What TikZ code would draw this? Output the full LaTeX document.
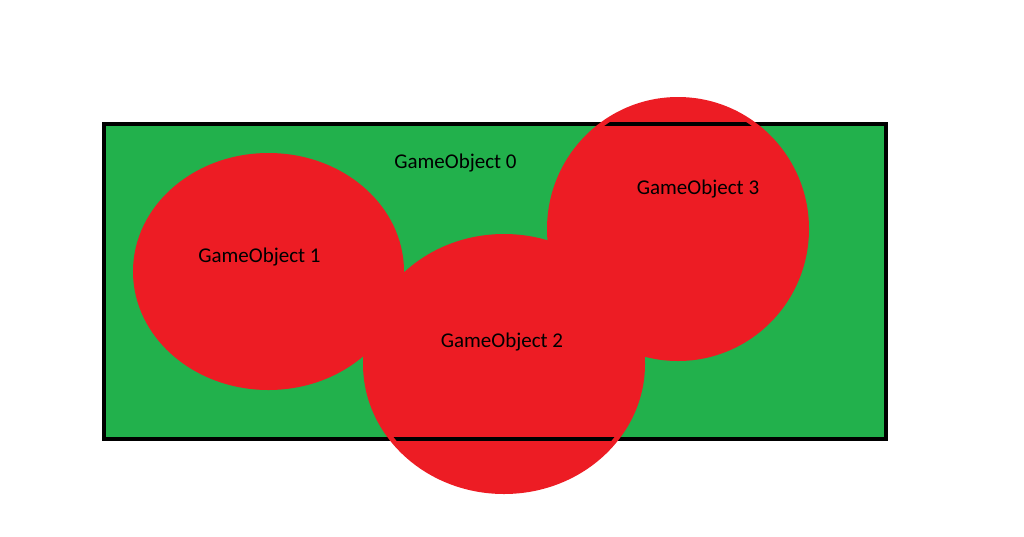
\documentclass[tikz,border=0pt]{standalone}
\usepackage{fontspec}
\setmainfont{Carlito}
\definecolor{paintgreen}{HTML}{22B14C}
\definecolor{paintred}{HTML}{ED1C24}
\begin{document}
\begin{tikzpicture}[x=1pt,y=-1pt,
  blob/.style={fill=paintred,draw=none},
  lbl/.style={font=\fontsize{21}{24}\selectfont,text=black,inner sep=0pt},
  frame/.style={draw=black,line width=4pt}]
\useasboundingbox (0,0) rectangle (1024,536);
\fill[paintgreen] (104,124) rectangle (886,439);
\draw[frame] (104,124) rectangle (886,439);
\fill[blob] (268.5,271.5) ellipse [x radius=135.5, y radius=118.5];
\fill[blob] (504,364) ellipse [x radius=141, y radius=130];
\fill[blob] (678,229) ellipse [x radius=131, y radius=132];
\begin{scope}
  \clip (504,364) ellipse [x radius=136, y radius=125];
  \draw[frame] (104,124) rectangle (886,439);
\end{scope}
\begin{scope}
  \clip (678,229) ellipse [x radius=126, y radius=127];
  \draw[frame] (104,124) rectangle (886,439);
\end{scope}
\node[lbl] (g0) at (455.5,163.5) {GameObject 0};
\node[lbl] (g1) at (259.5,257.5) {GameObject 1};
\node[lbl] (g2) at (502,342.5) {GameObject 2};
\node[lbl] (g3) at (698,189.5) {GameObject 3};
\end{tikzpicture}
\end{document}
